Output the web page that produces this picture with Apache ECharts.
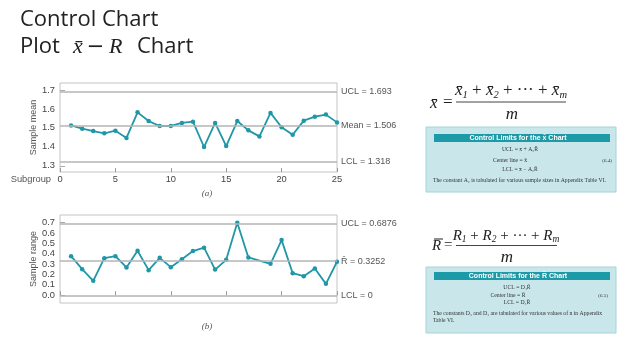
<!DOCTYPE html>
<html><head><meta charset="utf-8">
<script src="https://cdn.jsdelivr.net/npm/echarts@6/dist/echarts.min.js"></script>
<style>html,body{margin:0;padding:0;background:#fff}#c{width:638px;height:359px}</style>
</head><body><div id="c"></div>
<script>
// ---- data ----
const subgroups = [1,2,3,4,5,6,7,8,9,10,11,12,13,14,15,16,17,18,19,20,21,22,23,24,25];
const sampleMeans = [1.513,1.496,1.483,1.471,1.485,1.447,1.582,1.536,1.510,1.510,1.526,1.533,1.399,1.526,1.404,1.536,1.487,1.455,1.579,1.503,1.464,1.538,1.559,1.570,1.529];
const sampleRanges = [0.377,0.252,0.139,0.358,0.377,0.268,0.429,0.242,0.361,0.271,0.348,0.426,0.459,0.248,0.342,0.700,0.365,null,0.303,0.532,0.213,0.184,0.258,0.110,0.323];
const meanLimits = {ucl:1.693, center:1.506, lcl:1.318};
const rangeLimits = {ucl:0.6876, center:0.3252, lcl:0};
const meanTicks = [1.3,1.4,1.5,1.6,1.7];
const rangeTicks = [0,0.1,0.2,0.3,0.4,0.5,0.6,0.7];

const TEAL = '#1f97a7';
const GRAYLINE = '#b4b4b4';
const TXT = '#555';
const SANS = '"Liberation Sans", Arial, sans-serif';
const SERIF = '"Liberation Serif", "DejaVu Serif", serif';

function limitLine(value, text, pad) {
  return {yAxis:value, label:{formatter:text, padding:pad||0}};
}
function lineSeries(idx, values, limits, labels) {
  return {
    type:'line', xAxisIndex:idx, yAxisIndex:idx,
    data: subgroups.map((s,i)=>[s, values[i]]),
    connectNulls:true,
    symbol:'circle', symbolSize:4.5, showSymbol:true,
    itemStyle:{color:TEAL}, lineStyle:{color:TEAL, width:1.8},
    silent:true,
    markLine:{
      silent:true, symbol:'none', animation:false,
      lineStyle:{color:GRAYLINE, width:1.7, type:'solid'},
      label:{position:'end', distance:4, color:TXT, fontSize:9, fontFamily:SANS},
      data:[limitLine(limits.ucl, labels[0]), limitLine(limits.center, labels[1], labels[3]), limitLine(limits.lcl, labels[2])]
    }
  };
}
function xAx(idx, showLabels){
  return {gridIndex:idx, type:'value', min:0, max:25, interval:5,
    axisLine:{show:false}, splitLine:{show:false},
    axisTick:{show:true, inside:true, length:4, lineStyle:{color:'#999'}},
    axisLabel:{show:showLabels, color:'#444', fontSize:9.3, margin:3, fontFamily:SANS}};
}
function yAx(idx, min, max, ticks, endTicks, name){
  return {gridIndex:idx, type:'value', min:min, max:max,
    axisLine:{show:false}, splitLine:{show:false},
    axisTick:{show:true, inside:true, length:5, customValues:endTicks, lineStyle:{color:'#aaa'}},
    axisLabel:{customValues:ticks, formatter:v=>v.toFixed(1), color:'#444', fontSize:9.3, margin:5, fontFamily:SANS},
    name:name, nameLocation:'middle', nameGap:21,
    nameTextStyle:{color:TXT, fontSize:9, fontFamily:SANS}};
}

function txt(x,y,text,font,fill,align,vAlign,extra){
  return {type:'text', x:x, y:y, silent:true,
    style:Object.assign({text:text, font:font, fill:fill||'#222', align:align||'left', verticalAlign:vAlign||'middle'}, extra||{})};
}
function rect(x,y,w,h,fill,stroke){
  return {type:'rect', silent:true, shape:{x:x,y:y,width:w,height:h}, style:{fill:fill, stroke:stroke||null, lineWidth:stroke?1:0}};
}
function hline(x1,x2,y,color,w){
  return {type:'line', silent:true, shape:{x1:x1,y1:y,x2:x2,y2:y}, style:{stroke:color, lineWidth:w}};
}

const MF = 'italic 17px ' + SERIF;
const MFN = '17px ' + SERIF;
const SUB = 'italic 10.5px ' + SERIF;
const RF = 'italic 15px ' + SERIF;
const RFN = '15px ' + SERIF;
const RSUB = 'italic 9.5px ' + SERIF;
const BOXFILL = '#c9e7eb', BOXSTROKE = '#a5d3da', HEAD = '#1d9aa8';
const small = '5.7px ' + SERIF;
const TF = '22px "Open Sans"';
const TM = 'italic 22px ' + SERIF;

const graphics = [
  txt(20, 20, 'Control Chart', TF, '#222'),
  txt(20, 47, 'Plot', TF, '#222'),
  txt(73, 47, 'x\u0304', TM, '#222'),
  txt(95.5, 47.5, '\u2212', '21px "DejaVu Sans"', '#222', 'center'),
  txt(109, 47, 'R', TM, '#222'),
  txt(137, 47, 'Chart', TF, '#222'),
  txt(51, 179, 'Subgroup', '9.3px ' + SANS, TXT, 'right'),
  txt(207, 194, '(a)', 'italic 9px ' + SERIF, TXT, 'center'),
  txt(207, 327, '(b)', 'italic 9px ' + SERIF, TXT, 'center'),
  // formula 1
  txt(430, 104, 'x\u0304', MF, '#222'),
  txt(443, 103, '=', MFN, '#222'),
  hline(456, 566, 102, '#444', 1),
  txt(511, 91, '{m|x\u0304}{s|1}{n| + }{m|x\u0304}{s|2}{n| + \u00b7\u00b7\u00b7 + }{m|x\u0304}{s|m}', MF, '#222', 'center', 'middle',
    {rich:{m:{font:MF}, n:{font:MFN}, s:{font:SUB, padding:[8,0,0,0]}}}),
  txt(512, 115, 'm', MF, '#222', 'center'),
  // box 1
  rect(426, 127, 190, 65, BOXFILL, BOXSTROKE),
  rect(434, 134, 176, 8, HEAD),
  txt(518, 138.2, 'Control Limits for the x\u0304 Chart', 'bold 7px ' + SANS, '#fff', 'center'),
  txt(520, 150, 'UCL = x\u0304 + A\u2082R\u0304', small, '#333', 'center'),
  txt(510, 160.5, 'Center line = x\u0304', small, '#333', 'center'),
  txt(607, 160.5, '(6.4)', '5px ' + SERIF, '#333', 'center'),
  txt(520, 170, 'LCL = x\u0304 \u2212 A\u2082R\u0304', small, '#333', 'center'),
  txt(433, 181, 'The constant A\u2082 is tabulated for various sample sizes in Appendix Table VI.', small, '#333', 'left'),
  // formula 2
  txt(432, 246, 'R', RF, '#222'),
  hline(434, 443, 239, '#222', 1),
  txt(444, 245.5, '=', RFN, '#222'),
  hline(456, 557, 245.5, '#444', 1),
  txt(506, 236, '{m|R}{s|1}{n| + }{m|R}{s|2}{n| + \u00b7\u00b7\u00b7 + }{m|R}{s|m}', RF, '#222', 'center', 'middle',
    {rich:{m:{font:RF}, n:{font:RFN}, s:{font:RSUB, padding:[7,0,0,0]}}}),
  txt(507, 258, 'm', MF, '#222', 'center'),
  // box 2
  rect(426, 267, 190, 66, BOXFILL, BOXSTROKE),
  rect(434, 272, 176, 8, HEAD),
  txt(518, 276.2, 'Control Limits for the R\u0304 Chart', 'bold 7px ' + SANS, '#fff', 'center'),
  txt(517, 288, 'UCL = D\u2084R\u0304', small, '#333', 'center'),
  txt(508, 295.5, 'Center line = R\u0304', small, '#333', 'center'),
  txt(603, 295.5, '(6.5)', '5px ' + SERIF, '#333', 'center'),
  txt(517, 303, 'LCL = D\u2083R\u0304', small, '#333', 'center'),
  txt(433, 314, 'The constants D\u2083 and D\u2084 are tabulated for various values of n in Appendix', small, '#333', 'left'),
  txt(433, 320.5, 'Table VI.', small, '#333', 'left')
];

const option = {
  animation:false,
  backgroundColor:'#fff',
  grid:[
    {left:60, top:83, width:277, height:89, show:true, borderColor:'#c4c4c4', borderWidth:1},
    {left:60, top:215, width:277, height:88, show:true, borderColor:'#c4c4c4', borderWidth:1}
  ],
  xAxis:[xAx(0,true), xAx(1,false)],
  yAxis:[
    yAx(0, 1.267, 1.737, meanTicks, [1.3,1.7], 'Sample mean'),
    yAx(1, -0.0745, 0.774, rangeTicks, [0,0.7], 'Sample range')
  ],
  series:[
    lineSeries(0, sampleMeans, meanLimits, ['UCL = 1.693','Mean = 1.506','LCL = 1.318',[10,0,0,0]]),
    lineSeries(1, sampleRanges, rangeLimits, ['UCL = 0.6876','R\u0304 = 0.3252','LCL = 0',[3,0,0,0]])
  ],
  graphic:graphics
};
const chart = echarts.init(document.getElementById('c'), null, {renderer:'canvas'});
chart.setOption(option);
</script></body></html>
